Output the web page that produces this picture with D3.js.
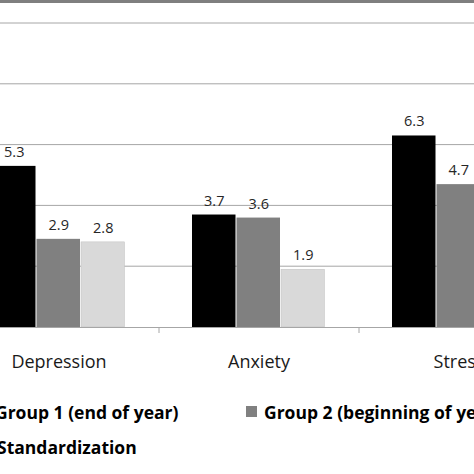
<!DOCTYPE html><html><head><meta charset="utf-8"><script src="https://cdn.jsdelivr.net/npm/d3@7"></script>
<style>body{margin:0;background:#fff}text{font-family:"Open Sans",sans-serif}</style></head><body><svg id="c" width="474" height="474"></svg><script>
const categories=["Depression","Anxiety","Stress"];
const series=["Group 1 (end of year)","Group 2 (beginning of year)","Standardization"];
const group1=[5.3,3.7,6.3];
const group2=[2.9,3.6,4.7];
const standard=[2.8,1.9,3.9];
const yTicks=[0,2,4,6,8,10];
const colors=["#000000","#808080","#d9d9d9"];
const svg=d3.select("#c");
const x=d3.scaleBand().domain(categories).range([-41,559]);
const y=d3.scaleLinear().domain([0,10]).range([327,23]);
svg.append("rect").attr("x",0).attr("y",0).attr("width",474).attr("height",3).attr("fill","#7f7f7f");
svg.selectAll(".g").data(yTicks.slice(1)).join("line").attr("x1",0).attr("x2",474).attr("y1",d=>y(d)).attr("y2",d=>y(d)).attr("stroke","#a6a6a6").attr("stroke-width",1);
const vals=[group1,group2,standard];
const bw=44.5;
vals.forEach((arr,s)=>{
  categories.forEach((c,i)=>{
    const bx=x(c)+33+s*bw, v=arr[i];
    svg.append("rect").attr("x",bx).attr("y",y(v)).attr("width",bw-1).attr("height",y(0)-y(v)).attr("fill",colors[s]).attr("stroke",s==2?"#bfbfbf":"none").attr("stroke-width",0.5);
    svg.append("text").attr("x",bx+bw/2).attr("y",y(v)-9).attr("text-anchor","middle").attr("font-size",14.5).attr("fill","#262626").text(v.toFixed(1));
  });
});
svg.append("line").attr("x1",0).attr("x2",474).attr("y1",y(0)+0.5).attr("y2",y(0)+0.5).attr("stroke","#a6a6a6");
categories.forEach(c=>{svg.append("line").attr("x1",x(c)+200).attr("x2",x(c)+200).attr("y1",y(0)).attr("y2",y(0)+6).attr("stroke","#a6a6a6");
 svg.append("text").attr("x",x(c)+100).attr("y",368).attr("text-anchor","middle").attr("font-size",18).attr("fill","#1a1a1a").text(c);});
const leg=[[-23,419],[246,419],[-21,454]];
series.forEach((s,i)=>{const g=svg.append("g");
 g.append("rect").attr("x",leg[i][0]).attr("y",leg[i][1]-13).attr("width",11).attr("height",11).attr("fill",colors[i]);
 g.append("text").attr("x",leg[i][0]+18).attr("y",leg[i][1]).attr("font-size",17.5).attr("font-weight","bold").attr("fill","#000").text(s);});
</script></body></html>
